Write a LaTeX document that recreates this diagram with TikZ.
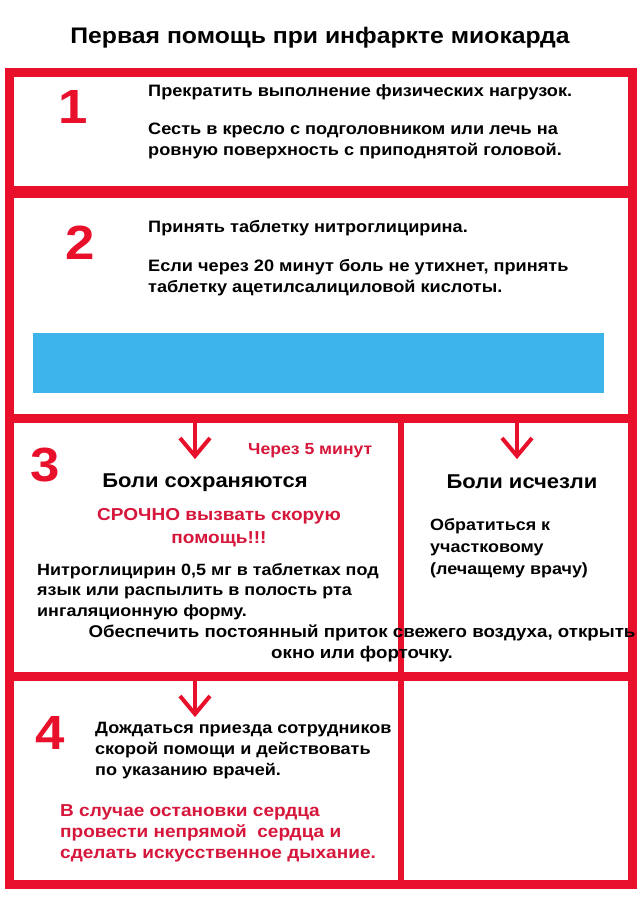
\documentclass[tikz,border=0pt]{standalone}
\usepackage{fontspec}
\setmainfont[FakeStretch=1.1]{Liberation Sans}
\definecolor{fr}{HTML}{E8102A}
\definecolor{tr}{HTML}{D6163A}
\definecolor{bl}{HTML}{3DB4EA}
\newcommand{\fs}[2]{\fontsize{#1}{#2}\selectfont\bfseries}
\begin{document}
\begin{tikzpicture}[x=1pt,y=-1pt,
  bar/.style={draw=fr,line width=9pt},
  num/.style={text=fr,font=\fontsize{48}{48}\selectfont\bfseries,inner sep=0},
  txt/.style={anchor=west,font=\fs{16.5}{21},inner sep=0,align=left},
  rtxt/.style={txt,text=tr},
  hd/.style={font=\fs{20}{22},inner sep=0},
  arr/.style={draw=fr,line width=4pt}]
\useasboundingbox (0,0) rectangle (640,905);
\fill[white] (0,0) rectangle (640,905);
\node[hd,font=\fs{22.5}{24}] (title) at (320,38) {Первая помощь при инфаркте миокарда};
\draw[bar] (9,72) rectangle (632,884);
\draw[draw=fr,line width=12pt] (9,192) -- (632,192);
\draw[bar] (9,418) -- (632,418);
\draw[bar] (9,676) -- (632,676);
\draw[draw=fr,line width=6pt] (401,418) -- (401,884);
\fill[bl] (33,333) rectangle (604,393);
\node[num] (n1) at (73,107) {1};
\node[num] (n2) at (80,243) {2};
\node[num] (n3) at (45,465) {3};
\node[num] (n4) at (50,733) {4};
\node[txt] (t1a) at (148,92) {Прекратить выполнение физических нагрузок.};
\node[txt,anchor=north west] (t1b) at (148,123) {Сесть в кресло с подголовником или лечь на\\ровную поверхность с приподнятой головой.};
\node[txt] (t2a) at (148,228) {Принять таблетку нитроглицирина.};
\node[txt,anchor=north west] (t2b) at (148,259) {Если через 20 минут боль не утихнет, принять\\таблетку ацетилсалициловой кислоты.};
\coordinate (a1s) at (195,420); \coordinate (a1e) at (195,456);
\coordinate (a2s) at (517,420); \coordinate (a2e) at (517,456);
\coordinate (a3s) at (195,680); \coordinate (a3e) at (195,714);
\foreach \s/\e in {a1s/a1e,a2s/a2e,a3s/a3e}{
  \draw[arr] (\s) -- (\e);
  \draw[arr,line join=miter] ([xshift=-15pt,yshift=18pt]\e) -- (\e) -- ([xshift=15pt,yshift=18pt]\e);}
\node[rtxt,font=\fs{16}{18}] (t5) at (248,451) {Через 5 минут};
\node[hd] (h1) at (205,483) {Боли сохраняются};
\node[hd] (h2) at (522,482) {Боли исчезли};
\node[rtxt,anchor=north,align=center,font=\fs{17.3}{23}] (sr) at (219,508) {СРОЧНО вызвать скорую\\помощь!!!};
\node[txt,anchor=north west,font=\fs{16.3}{20.5}] (ng) at (37,563) {Нитроглицирин 0,5 мг в таблетках под\\язык или распылить в полость рта\\ингаляционную форму.};
\node[txt,anchor=north west,font=\fs{16.3}{22}] (ob) at (430,518) {Обратиться к\\участковому\\(лечащему врачу)};
\node[txt,anchor=north,align=center,font=\fs{17}{21}] (air) at (362,625) {Обеспечить постоянный приток свежего воздуха, открыть\\окно или форточку.};
\node[txt,anchor=north west,font=\fs{16.4}{21}] (t4) at (95,722) {Дождаться приезда сотрудников\\скорой помощи и действовать\\по указанию врачей.};
\node[rtxt,anchor=north west,font=\fs{17.3}{21}] (t4r) at (60,804) {В случае остановки сердца\\провести непрямой\ \ сердца и\\сделать искусственное дыхание.};
\end{tikzpicture}
\end{document}
